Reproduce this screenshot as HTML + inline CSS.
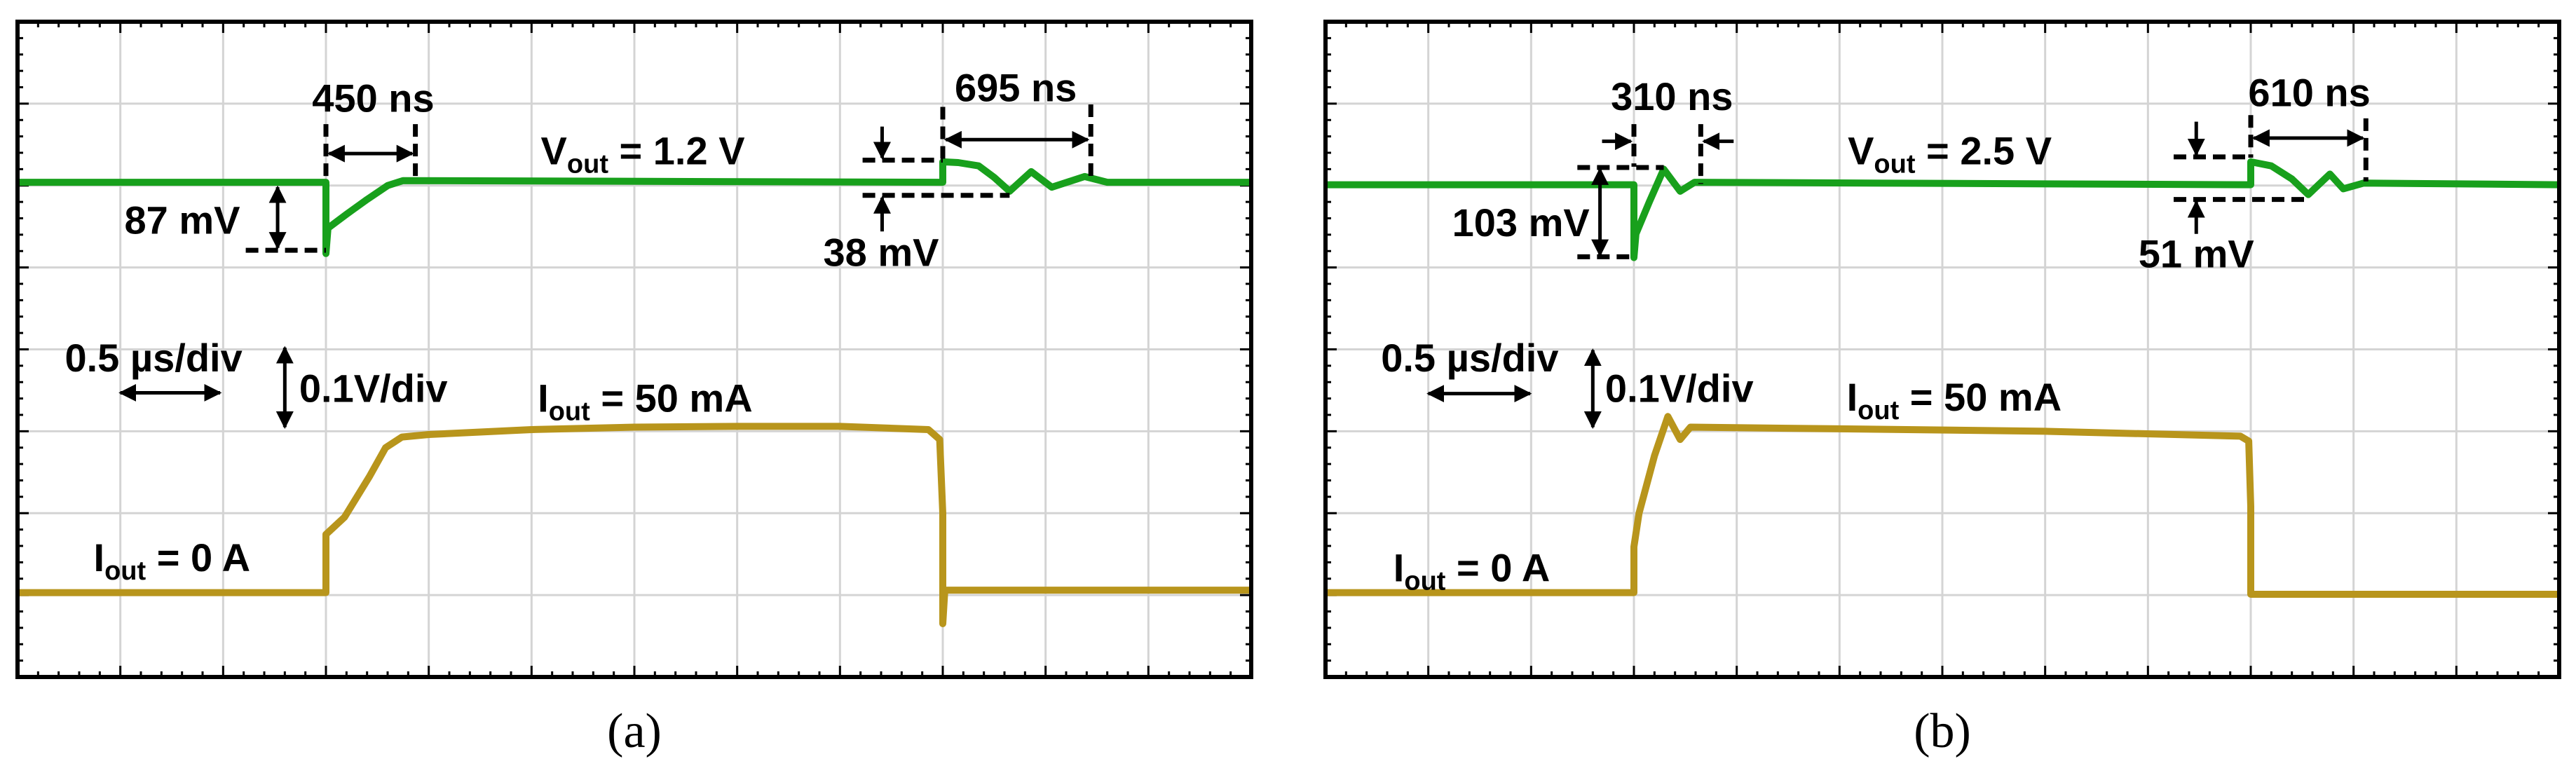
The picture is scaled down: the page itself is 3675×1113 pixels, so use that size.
<!DOCTYPE html>
<html><head><meta charset="utf-8">
<style>
html,body{margin:0;padding:0;background:#fff;}
svg{display:block;}
.lbl{font-family:"Liberation Sans",Arial,sans-serif;font-weight:bold;font-size:56px;fill:#000;}
.cap{font-family:"Liberation Serif","Times New Roman",serif;font-size:70px;fill:#000;}
</style></head>
<body>
<svg id="chart" width="3675" height="1113" viewBox="0 0 3675 1113" xmlns="http://www.w3.org/2000/svg">
<defs>
<marker id="ah" viewBox="0 0 10 10" refX="9" refY="5" markerWidth="5" markerHeight="5" orient="auto-start-reverse" markerUnits="strokeWidth">
<path d="M0,0 L10,5 L0,10 z" fill="#000"/>
</marker>
</defs>
</svg>
<script>
// ---- data (units: time in divisions, level in divisions from top) ----
const greenA_t=[0,3,3,3.02,3.2,3.4,3.6,3.75,9,9,9.15,9.35,9.5,9.65,9.86,10.06,10.38,10.6,12];
const greenA_y=[1.96,1.96,2.83,2.52,2.35,2.17,2.0,1.94,1.96,1.71,1.72,1.76,1.9,2.07,1.83,2.02,1.89,1.96,1.96];
const goldA_t=[0,3,3,3.18,3.42,3.58,3.74,4,5,6,7,8,8.86,8.97,9,9,9.02,12];
const goldA_y=[6.97,6.97,6.26,6.05,5.56,5.2,5.07,5.04,4.98,4.95,4.94,4.94,4.98,5.1,6.0,7.35,6.94,6.94];
const greenB_t=[0,3,3,3.02,3.15,3.29,3.45,3.59,9,9,9.2,9.4,9.56,9.77,9.9,10.1,12];
const greenB_y=[1.99,1.99,2.88,2.59,2.2,1.80,2.07,1.96,1.99,1.71,1.76,1.92,2.11,1.86,2.04,1.97,1.99];
const goldB_t=[0,3,3,3.05,3.2,3.33,3.45,3.55,5,7,8.9,8.98,9,9,9.02,12];
const goldB_y=[6.97,6.97,6.41,6.0,5.3,4.82,5.10,4.95,4.97,5.0,5.06,5.12,5.92,6.99,6.99,6.99];

const NS='http://www.w3.org/2000/svg';
const svg=document.getElementById('chart');
const panels=[{x0:25,name:'a'},{x0:1891,name:'b'}];
const W=1760,Y0=31,H=935,NX=12,NY=8;
function mk(tag,attrs,parent){const e=document.createElementNS(NS,tag);for(const k in attrs)e.setAttribute(k,attrs[k]);(parent||svg).appendChild(e);return e;}

function build(p,gT,gY,oT,oY,ann){
  const g=mk('g',{});
  
  
  const X=t=>p.x0+t*W/NX, Y=v=>Y0+v*H/NY;
  for(let i=1;i<NX;i++){const l=mk('line',{x1:X(i),x2:X(i),y1:Y0,y2:Y0+H,stroke:'#d4d4d4','stroke-width':3},g);}
  for(let j=1;j<NY;j++){const l=mk('line',{x1:p.x0,x2:p.x0+W,y1:Y(j),y2:Y(j),stroke:'#d4d4d4','stroke-width':3},g);}
  let d='';
  for(let k=1;k<NX*5;k++){const len=k%5==0?16:8;const x=X(k/5);d+=`M${x},${Y0}v${len}M${x},${Y0+H}v${-len}`;}
  for(let k=1;k<NY*5;k++){const len=k%5==0?16:8;const y=Y(k/5);d+=`M${p.x0},${y}h${len}M${p.x0+W},${y}h${-len}`;}
  const tk=mk('path',{d:d,stroke:'#000','stroke-width':3,fill:'none'},g);
  
  const pts=(ts,vs)=>ts.map((t,i)=>X(t).toFixed(1)+','+Y(vs[i]).toFixed(1)).join(' ');
  const gl=mk('polyline',{points:pts(oT,oY),fill:'none',stroke:'#b8951c','stroke-width':10,'stroke-linejoin':'round'},g);
  
  const gr=mk('polyline',{points:pts(gT,gY),fill:'none',stroke:'#18a01c','stroke-width':10,'stroke-linejoin':'round'},g);
  
  const fr=mk('rect',{x:p.x0,y:Y0,width:W,height:H,fill:'none',stroke:'#000','stroke-width':6},g);
  
  ann.dash.forEach(a=>{const l=mk('line',{x1:X(a[0]),y1:Y(a[1]),x2:X(a[2]),y2:Y(a[3]),stroke:'#000','stroke-width':7,'stroke-dasharray':'18 10'},g);});
  ann.arr.forEach(a=>{const at={x1:X(a[0]),y1:Y(a[1]),x2:X(a[2]),y2:Y(a[3]),stroke:'#000','stroke-width':5,'marker-end':'url(#ah)'};if(a[4])at['marker-start']='url(#ah)';const l=mk('line',at,g);});
  ann.txt.forEach(a=>{const t=mk('text',{x:X(a[0]),y:Y(a[1]),class:'lbl','text-anchor':a[3]||'start'},g);
    if(a[2].indexOf('|')>=0){const s=a[2].split('|');const t1=mk('tspan',{},t);t1.textContent=s[0];const t2=mk('tspan',{'font-size':38,dy:12},t);t2.textContent='out';const t3=mk('tspan',{dy:-12},t);t3.textContent=s[1];}
    else t.textContent=a[2];});
  const c=mk('text',{x:p.x0+W/2,y:1066,class:'cap','text-anchor':'middle'},svg);
  
  c.textContent='('+p.name+')';
}

build(panels[0],greenA_t,greenA_y,goldA_t,goldA_y,{
 dash:[[3,1.25,3,1.96],[3.87,1.25,3.87,1.92],[9,1.04,9,1.71],[10.44,1.01,10.44,1.95],[2.22,2.79,3,2.79],[8.22,1.69,9,1.69],[8.22,2.12,9.65,2.12]],
 arr:[[3.03,1.61,3.84,1.61,1],[2.53,2.02,2.53,2.76,1],[9.03,1.44,10.41,1.44,1],[8.41,1.28,8.41,1.66,0],[8.41,2.56,8.41,2.15,0],[1.0,4.53,1.97,4.53,1],[2.6,3.98,2.6,4.95,1]],
 txt:[[3.46,1.10,'450 ns','middle'],[9.71,0.97,'695 ns','middle'],[5.09,1.74,'V| = 1.2 V'],[1.04,2.59,'87 mV'],[8.4,2.98,'38 mV','middle'],[0.46,4.27,'0.5 µs/div'],[2.74,4.64,'0.1V/div'],[5.06,4.76,'I| = 50 mA'],[0.74,6.71,'I| = 0 A']]
});
build(panels[1],greenB_t,greenB_y,goldB_t,goldB_y,{
 dash:[[3,1.25,3,1.77],[3.65,1.25,3.65,1.98],[2.45,1.78,3.29,1.78],[2.45,2.87,3,2.87],[9,1.14,9,1.66],[10.12,1.18,10.12,1.95],[8.25,1.65,9,1.65],[8.25,2.17,9.56,2.17]],
 arr:[[2.69,1.46,2.97,1.46,0],[3.97,1.46,3.68,1.46,0],[2.67,1.80,2.67,2.85,1],[9.03,1.42,10.09,1.42,1],[8.47,1.22,8.47,1.62,0],[8.47,2.59,8.47,2.2,0],[1.0,4.54,1.99,4.54,1],[2.6,4.01,2.6,4.95,1]],
 txt:[[3.37,1.08,'310 ns','middle'],[9.57,1.03,'610 ns','middle'],[5.08,1.74,'V| = 2.5 V'],[1.9,2.62,'103 mV','middle'],[8.47,3.0,'51 mV','middle'],[0.54,4.27,'0.5 µs/div'],[2.72,4.64,'0.1V/div'],[5.07,4.75,'I| = 50 mA'],[0.66,6.83,'I| = 0 A']]
});
</script>
</body></html>
